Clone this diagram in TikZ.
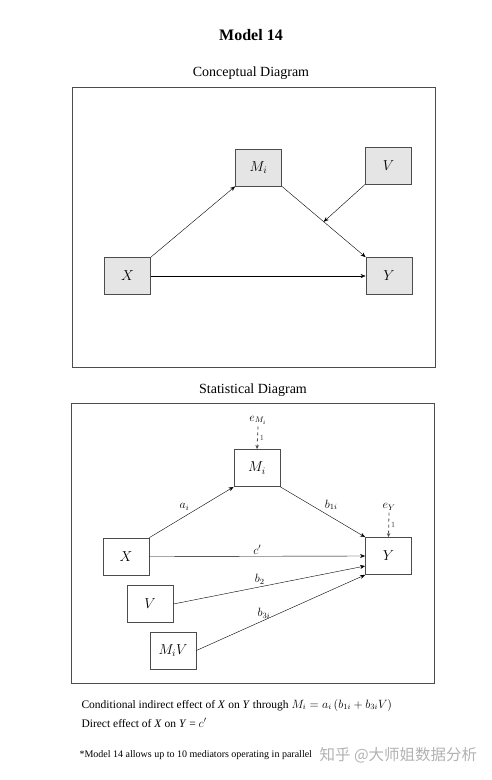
\documentclass[tikz,border=0pt]{standalone}
\usepackage{fontspec}
\setmainfont{Liberation Serif}
\newfontfamily\cjkfont{Noto Sans CJK SC}
\usetikzlibrary{arrows.meta,calc}
\begin{document}
\begin{tikzpicture}[x=1pt,y=-1pt,font=\fontsize{14}{16}\selectfont,
  cvar/.style={draw=black!70,thick,fill=black!10,minimum width=46pt,minimum height=37pt,inner sep=0pt},
  svar/.style={draw=black!70,thick,fill=white,minimum width=46pt,minimum height=37pt,inner sep=0pt},
  frame/.style={draw=black!70,thick},
  path/.style={thin,-{Stealth[length=5pt,width=4pt]}},
  err/.style={thick,dashed,black!70,-{Stealth[length=4pt,width=3.5pt]}},
  coef/.style={font=\fontsize{12}{14}\selectfont,inner sep=2pt}]
\useasboundingbox (0,0) rectangle (491,780);
\node[font=\bfseries\fontsize{16}{18}\selectfont] (title) at (251,35) {Model 14};
\node (ctitle) at (251,73) {Conceptual Diagram};
\draw[frame] (72,87) rectangle (435,367);
\node[cvar] (cM) at (258.5,167.5) {$M_i$};
\node[cvar] (cV) at (388.5,165.5) {$V$};
\node[cvar] (cX) at (127.5,276) {$X$};
\node[cvar] (cY) at (389,276) {$Y$};
\coordinate (cmod) at ($(cM.south east)!0.5!(cY.north west)$);
\draw[path] (cX.north east) -- (cM.south west);
\draw[path] (cM.south east) -- (cY.north west);
\draw[path] (cX) -- (cY);
\draw[path] (cV.south west) -- (cmod);
\node (stitle) at (253,390) {Statistical Diagram};
\draw[frame] (71,403) rectangle (434,683);
\node[svar] (sM) at (257,468) {$M_i$};
\node[svar] (sY) at (388.5,556) {$Y$};
\node[svar] (sX) at (126,556.5) {$X$};
\node[svar] (sV) at (150,604) {$V$};
\node[svar] (sMV) at (173,650.5) {$M_iV$};
\node[coef] (eM) at (258,420) {$e_{M_i}$};
\node[coef] (eY) at (389,507) {$e_Y$};
\draw[err] (eM.south) -- node[right,coef,font=\fontsize{8}{9}\selectfont]{1} (sM.north);
\draw[err] (eY.south) -- node[right,coef,font=\fontsize{8}{9}\selectfont]{1} (sY.north);
\draw[path] (sX.north east) -- node[coef,above left]{$a_i$} (sM.south west);
\draw[path] (sM.south east) -- node[coef,above right]{$b_{1i}$} (sY.north west);
\draw[path] (sX.east) -- node[coef,above]{$c'$} (sY.west);
\draw[path] (sV.east) -- node[coef,above,pos=0.45]{$b_2$} ($(sY.west)+(0,10)$);
\draw[path] (sMV.east) -- node[coef,above,pos=0.4]{$b_{3i}$} (sY.south west);
\node[anchor=west,font=\fontsize{11.5}{13}\selectfont] (ind) at (78,705) {Conditional indirect effect of \textit{X} on \textit{Y} through $M_i = a_i\,(b_{1i} + b_{3i}V)$};
\node[anchor=west,font=\fontsize{11.5}{13}\selectfont] (dir) at (78,723) {Direct effect of \textit{X} on \textit{Y} = $c'$};
\node[anchor=west,font=\fontsize{10}{12}\selectfont] (note) at (76,755) {*Model 14 allows up to 10 mediators operating in parallel};
\node[anchor=west,text=black!30,font=\cjkfont\fontsize{15.5}{17}\selectfont] (mark) at (316,755) {知乎 @大师姐数据分析};
\end{tikzpicture}
\end{document}
